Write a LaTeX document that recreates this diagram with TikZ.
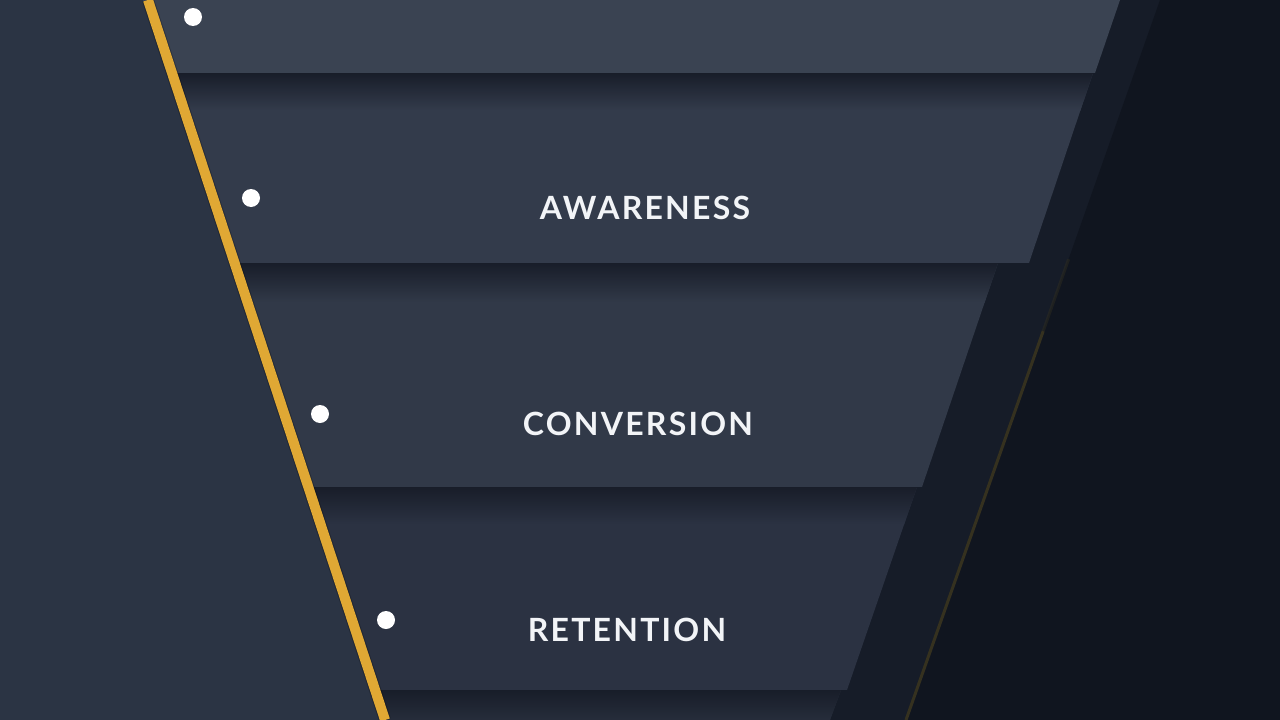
\documentclass[tikz,border=0pt]{standalone}
\usepackage{fontspec}
\setmainfont{Lato}
\usepackage{tikz}
\usetikzlibrary{calc,positioning}
\usepackage{xcolor}

\definecolor{bgleft}{HTML}{2B3444}
\definecolor{bgright}{HTML}{161C28}
\definecolor{bgdark}{HTML}{10151F}
\definecolor{bandA}{HTML}{3A4352}
\definecolor{bandB}{HTML}{333B4B}
\definecolor{bandC}{HTML}{313948}
\definecolor{bandD}{HTML}{2B3242}
\definecolor{bandE}{HTML}{272E3C}
\definecolor{bandshadow}{HTML}{181D29}
\definecolor{gold}{HTML}{E0A834}
\definecolor{dimgold}{HTML}{35311F}
\definecolor{labelwhite}{HTML}{F2F4F7}

\tikzset{
  stagelabel/.style={text=labelwhite, font=\fontsize{32}{36}\selectfont\bfseries\addfontfeature{LetterSpace=7}, inner sep=0pt},
  stagedot/.style={circle, fill=white, minimum size=18pt, inner sep=0pt},
}

\begin{document}
\begin{tikzpicture}[x=1pt,y=-1pt]
    \useasboundingbox (0,0) rectangle (1280,720);
    % background
    \fill[bgleft] (0,0) rectangle (1280,720);
    \coordinate (R1) at (1115,0);
    \coordinate (R2) at (790,720);
    \fill[bgright] (R1)--(1280,0)--(1280,720)--(R2)--cycle;
    \coordinate (F1) at (1160,0);
    \coordinate (F2) at (906,720);
    \fill[bgdark] (F1)--(1280,0)--(1280,720)--(F2)--cycle;
    \draw[dimgold, line width=3pt, opacity=0.4] ($(F1)!0.36!(F2)$)--($(F1)!0.46!(F2)$);
    \draw[dimgold, line width=3pt] ($(F1)!0.46!(F2)$)--(F2);

    % gold guide line
    \coordinate (G1) at (148,0);
    \coordinate (G2) at (385,720);

    % band 1
    \begin{scope}
        \clip (143,0)--(1120,0)--(1095,73)--(167,73)--cycle;
        \fill[bandA] (0,0) rectangle (1280,73);
    \end{scope}
    % band 2
    \begin{scope}
        \clip (167,73)--(1093,73)--(1029,263)--(230,263)--cycle;
        \fill[bandB] (0,73) rectangle (1280,263);
        \shade[top color=bandshadow, bottom color=bandB] (0,73) rectangle (1280,110);
    \end{scope}
    % band 3
    \begin{scope}
        \clip (230,263)--(998,263)--(922,487)--(303,487)--cycle;
        \fill[bandC] (0,263) rectangle (1280,487);
        \shade[top color=bandshadow, bottom color=bandC] (0,263) rectangle (1280,302);
    \end{scope}
    % band 4
    \begin{scope}
        \clip (303,487)--(917,487)--(847,690)--(370,690)--cycle;
        \fill[bandD] (0,487) rectangle (1280,690);
        \shade[top color=bandshadow, bottom color=bandD] (0,487) rectangle (1280,524);
    \end{scope}
    % band 5
    \begin{scope}
        \clip (370,690)--(841,690)--(830,720)--(380,720)--cycle;
        \fill[bandE] (0,690) rectangle (1280,720);
        \shade[top color=bandshadow, bottom color=bandE] (0,690) rectangle (1280,722);
    \end{scope}

    \draw[black, opacity=0.25, line width=12pt] (G1)--(G2);
    \draw[gold, line width=10pt] (G1)--(G2);

    % dots
    \node[stagedot] (dot1) at (193,17) {};
    \node[stagedot] (dot2) at (251,198) {};
    \node[stagedot] (dot3) at (320,414) {};
    \node[stagedot] (dot4) at (386,620) {};

    % labels
    \node[stagelabel] (awareness) at (645,208) {AWARENESS};
    \node[stagelabel] (conversion) at (638,424) {CONVERSION};
    \node[stagelabel] (retention) at (627,630) {RETENTION};
\end{tikzpicture}
\end{document}
